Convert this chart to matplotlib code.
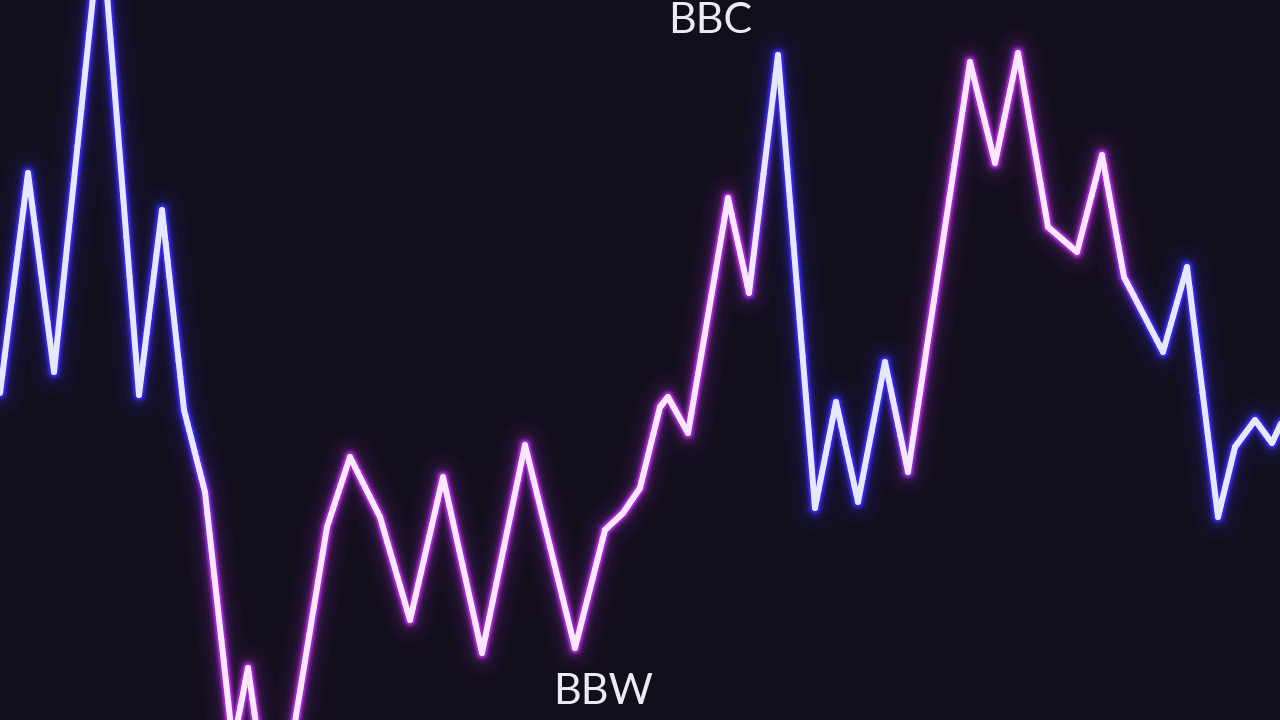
import numpy as np
import matplotlib
matplotlib.use("Agg")
import matplotlib.pyplot as plt
from matplotlib.collections import LineCollection
from matplotlib.colors import to_rgb

# ---- data (x position, value) ----
t = [0, 28, 54, 101, 139, 162, 184, 205, 233, 248, 274, 327, 350, 380, 410,
     443, 482, 525, 575, 605, 623, 640, 660, 668, 688, 728, 749, 778, 815,
     836, 858, 885, 908, 970, 995, 1018, 1048, 1077, 1102, 1124, 1163, 1187,
     1218, 1235, 1255, 1272, 1285]
values = [327, 547, 348, 800, 325, 510, 310, 228, -25, 52, -130, 193, 263,
          203, 100, 243, 67, 275, 72, 190, 207, 232, 313, 323, 287, 522, 427,
          665, 212, 318, 218, 358, 248, 658, 557, 667, 493, 468, 565, 443,
          368, 453, 203, 273, 300, 277, 305]
labels = ["BBC", "BBW"]
label_pos = [(710, 718), (603, 9)]

BG = "#120e1c"

# colour along x: blue <-> pink
stops_x = [0, 190, 215, 745, 772, 890, 915, 1115, 1150, 1280]
stops_c = ["b", "b", "p", "p", "b", "b", "p", "p", "b", "b"]
BLUE_GLOW = np.array(to_rgb("#3b2dff"))
PINK_GLOW = np.array(to_rgb("#b22fe0"))
BLUE_CORE = np.array(to_rgb("#e6e8ff"))
PINK_CORE = np.array(to_rgb("#fde6ff"))
bg = np.array(to_rgb(BG))

def mixf(x):
    return np.interp(x, stops_x, [0.0 if c == "b" else 1.0 for c in stops_c])

fig = plt.figure(figsize=(12.8, 7.2), dpi=100, facecolor=BG)
ax = fig.add_axes([0, 0, 1, 1])
ax.set_facecolor(BG)
ax.set_xlim(0, 1280)
ax.set_ylim(0, 720)
ax.axis("off")

# densify path
xs, ys = [], []
for i in range(len(t) - 1):
    n = 12
    for k in range(n):
        f = k / n
        xs.append(t[i] + f * (t[i + 1] - t[i]))
        ys.append(values[i] + f * (values[i + 1] - values[i]))
xs.append(t[-1]); ys.append(values[-1])
xs = np.array(xs); ys = np.array(ys)
pts = np.column_stack([xs, ys]).reshape(-1, 1, 2)
segs = np.concatenate([pts[:-1], pts[1:]], axis=1)
mid = (xs[:-1] + xs[1:]) / 2
m = mixf(mid)[:, None]
glow = BLUE_GLOW * (1 - m) + PINK_GLOW * m
core = BLUE_CORE * (1 - m) + PINK_CORE * m

layers = [(34, 0.035), (26, 0.06), (19, 0.12), (14, 0.22), (10.5, 0.4),
          (8, 0.65), (6.5, 0.88)]
for lw, a in layers:
    cols = bg * (1 - a) + glow * a
    lc = LineCollection(segs, colors=cols, linewidths=lw,
                        capstyle="round", joinstyle="round")
    ax.add_collection(lc)
lc = LineCollection(segs, colors=core, linewidths=4.3,
                    capstyle="round", joinstyle="round")
ax.add_collection(lc)

for lab, (lx, ly), va in zip(labels, label_pos, ["top", "bottom"]):
    ax.text(lx, ly, lab, color="#ecebf2", fontsize=31, family="Lato",
            ha="center", va=va)

fig.savefig("out.png", dpi=100, facecolor=BG)
